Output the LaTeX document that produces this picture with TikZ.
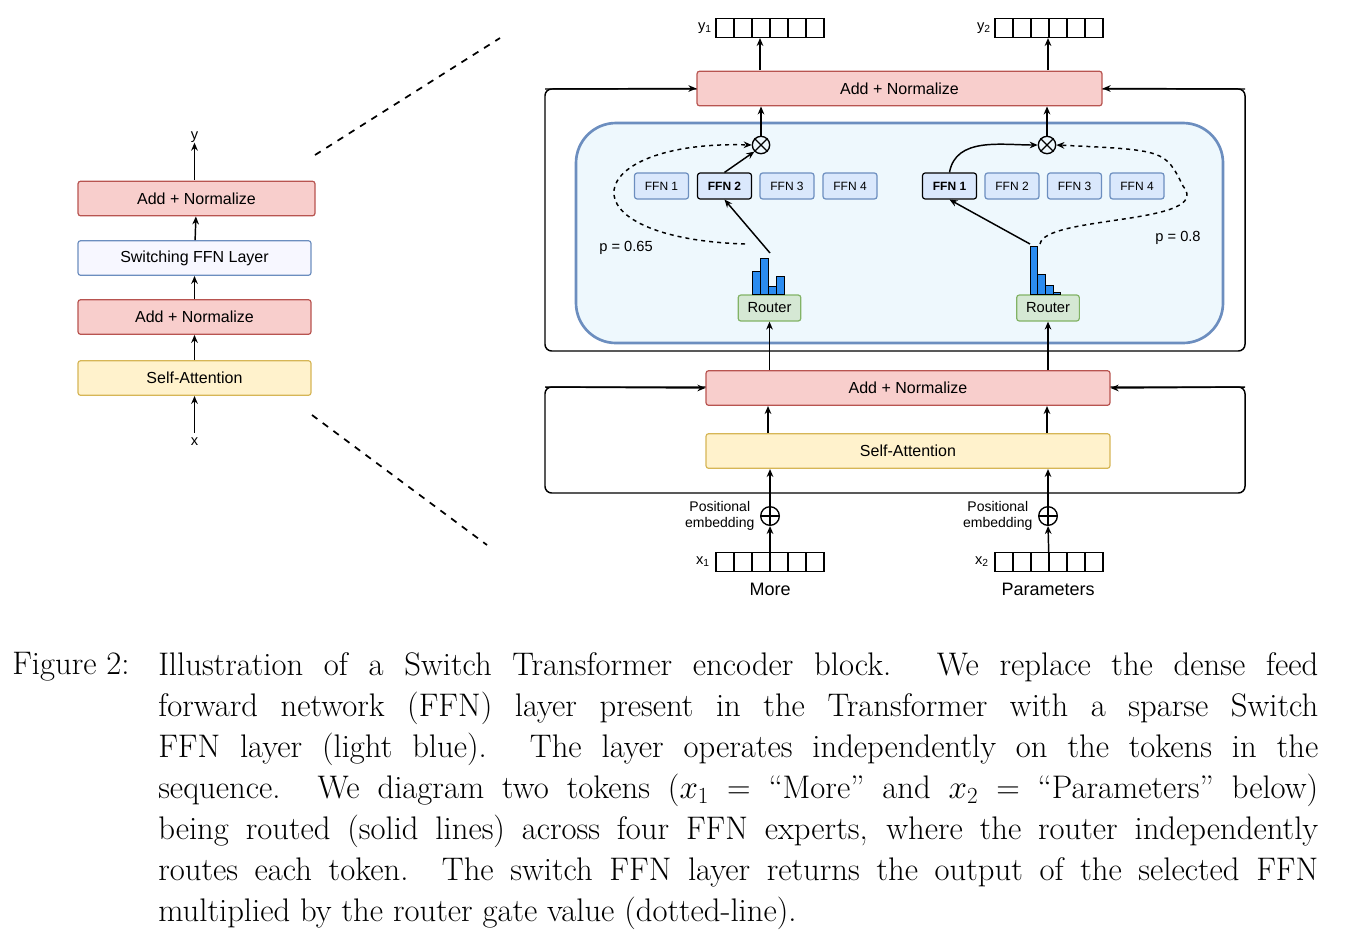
\documentclass[tikz,border=0pt]{standalone}
\usepackage{fontspec}
\newfontfamily\dfont{Liberation Sans}
\usetikzlibrary{positioning,arrows.meta}
\definecolor{rfill}{HTML}{F8CECC}\definecolor{rdraw}{HTML}{B85450}
\definecolor{yfill}{HTML}{FFF2CC}\definecolor{ydraw}{HTML}{D6B656}
\definecolor{bfill}{HTML}{DAE8FC}\definecolor{bdraw}{HTML}{6C8EBF}
\definecolor{gfill}{HTML}{D5E8D4}\definecolor{gdraw}{HTML}{82B366}
\definecolor{lfill}{HTML}{EEF8FD}\definecolor{hist}{HTML}{2B8CF0}
\tikzset{
  blk/.style={draw, rounded corners=2pt, line width=0.9pt, font=\dfont\fontsize{12}{14}\selectfont, inner sep=0pt},
  red/.style={blk, fill=rfill, draw=rdraw},
  yel/.style={blk, fill=yfill, draw=ydraw},
  ffn/.style={blk, fill=bfill, draw=bdraw, minimum width=40.5pt, minimum height=19.5pt, font=\dfont\fontsize{9}{10}\selectfont},
  sel/.style={ffn, draw=black, font=\dfont\bfseries\fontsize{9}{10}\selectfont},
  rtr/.style={blk, fill=gfill, draw=gdraw, minimum width=47pt, minimum height=19.5pt, font=\dfont\fontsize{11}{12}\selectfont},
  arr/.style={-{Stealth[length=6pt,width=5pt]}, line width=1.1pt},
  dsh/.style={arr, dashed},
  lbl/.style={font=\dfont\fontsize{11}{12}\selectfont, inner sep=0pt},
  captxt/.style={anchor=north west, inner sep=0pt, font=\fontsize{24.5}{30.75}\selectfont},
}
\newcommand\vect[3]{% name, x, y
  \foreach \i in {0,...,5}
    \draw[line width=1.3pt] (#2+\i*18-54,#3-9.5) rectangle ++(18,19);
  \coordinate (#1) at (#2,#3);}
\begin{document}
\begin{tikzpicture}[x=0.75pt,y=-0.75pt]
  \useasboundingbox (0,0) rectangle (1358,951);
  % left: overview
  \node[red, minimum width=177.75pt, minimum height=26pt] (lan2) at (196.5,198.5) {Add + Normalize};
  \node[blk, fill=blue!3, draw=bdraw, minimum width=174.75pt, minimum height=26pt] (lsw) at (194.5,258) {Switching FFN Layer};
  \node[red, minimum width=174.75pt, minimum height=26pt] (lan1) at (194.5,317) {Add + Normalize};
  \node[yel, minimum width=174.75pt, minimum height=26pt] (lsa) at (194.5,378) {Self-Attention};
  \node[lbl] (lx) at (194.5,442) {x};
  \node[lbl] (ly) at (194.5,137) {y};
  \draw[arr] (lx.north) ++(0,-5) -- (lsa);
  \draw[arr] (lsa) -- (lan1);
  \draw[arr] (lan1) -- (lsw);
  \draw[arr] (lsw) -- (lan2);
  \draw[arr] (194.5,180) -- (ly);
  \draw[dashed, line width=1.3pt, dash pattern=on 5pt off 5pt] (315,155) -- (500,38);
  \draw[dashed, line width=1.3pt, dash pattern=on 5pt off 5pt] (312,415) -- (487,545);
  % right: switch layer
  \draw[rounded corners=5pt, line width=1.1pt] (697,89) -- (545,89) -- (545,351) -- (1245,351) -- (1245,89) -- (1102,89);
  \draw[rounded corners=5pt, line width=1.1pt] (706,387) -- (545,387) -- (545,493) -- (1245,493) -- (1245,387) -- (1110,387);
  \draw[line width=2pt, draw=bdraw, fill=lfill, rounded corners=30pt] (576,123) rectangle (1223,343);
  \node[red, minimum width=303.75pt, minimum height=26pt] (an2) at (899.5,88.5) {Add + Normalize};
  \node[red, minimum width=303pt, minimum height=26pt] (an1) at (908,388) {Add + Normalize};
  \node[yel, minimum width=303pt, minimum height=26pt] (sa) at (908,451) {Self-Attention};
  \draw[arr] (545,89) -- (an2.west);
  \draw[arr] (1245,89) -- (an2.east);
  \draw[arr] (545,387) -- (an1.west);
  \draw[arr] (1245,387) -- (an1.east);
  % experts
  \foreach \n/\x in {1/661.5,3/787,4/850,6/1012,7/1074.5,8/1137}
    \node[ffn] (f\n) at (\x,186) {FFN \ifcase\n\or1\or\or3\or4\or\or2\or3\or4\fi};
  \node[sel] (f2) at (724.5,186) {FFN 2};
  \node[sel] (f5) at (949.5,186) {FFN 1};
  \node[rtr] (r1) at (769.5,308) {Router};
  \node[rtr] (r2) at (1048,308) {Router};
  \draw[line width=0.6pt, fill=hist] (752,271) rectangle (760,294) (760,258) rectangle (768,294)
    (768,286) rectangle (776,294) (776,276) rectangle (784,294);
  \draw[line width=0.6pt, fill=hist] (1030,246) rectangle (1037,294) (1037,274) rectangle (1045,294)
    (1045,285) rectangle (1053,294) (1053,292) rectangle (1060,294);
  \node[draw, circle, line width=1pt, minimum size=13pt, inner sep=0pt] (m1) at (761,145) {};
  \node[draw, circle, line width=1pt, minimum size=13pt, inner sep=0pt] (m2) at (1047,145) {};
  \foreach \m in {m1,m2}
    \draw[line width=1pt] (\m.north west) -- (\m.south east) (\m.north east) -- (\m.south west);
  \draw[arr] (770,253) -- (f2.south);
  \draw[arr] (f2.north) -- (m1.south west);
  \draw[arr] (1030,244) -- (f5.south);
  \draw[arr] (f5.north) to[out=80, in=180] (m2.west);
  \draw[dsh] (745,244) .. controls (560,238) and (580,140) .. (m1.west);
  \draw[dsh] (1040,244) .. controls (1045,215) and (1215,225) .. (1183,186) .. controls (1165,150) .. (m2.east);
  \node[lbl] (p1) at (626,248) {p = 0.65};
  \node[lbl] (p2) at (1178,238) {p = 0.8};
  \draw[arr] (r1.north |- an1.north) -- (r1.south);
  \draw[arr] (r2.north |- an1.north) -- (r2.south);
  \draw[arr] (m1.north) -- (m1.north |- an2.south);
  \draw[arr] (m2.north) -- (m2.north |- an2.south);
  \draw[arr] (768,433) -- (768,406);
  \draw[arr] (1047,433) -- (1047,406);
  % outputs
  \vect{y1}{770}{28}
  \vect{y2}{1049}{28}
  \node[lbl, left=3pt of y1, xshift=-40.5pt] (ly1) {y\textsubscript{1}};
  \node[lbl, left=3pt of y2, xshift=-40.5pt] (ly2) {y\textsubscript{2}};
  \draw[arr] (760,70) -- (760,38);
  \draw[arr] (1048,70) -- (1048,38);
  % inputs
  \foreach \k/\x in {1/770,2/1048}{
    \node[draw, circle, line width=1pt, minimum size=14pt, inner sep=0pt] (pe\k) at (\x,516) {};
    \draw[line width=1pt] (pe\k.north) -- (pe\k.south) (pe\k.west) -- (pe\k.east);
    \node[lbl, font=\dfont\fontsize{10.5}{12.5}\selectfont, align=center, left=4pt of pe\k] (pt\k) {Positional\\embedding};
    \draw[arr] (pe\k.north) -- (\x,469);
    \draw[line width=1.1pt] (\x,493) -- (\x,499);
  }
  \vect{x1}{770}{562}
  \vect{x2}{1049}{562}
  \draw[arr] (x1) -- (pe1.south);
  \draw[arr] (x2) -- (pe2.south);
  \node[lbl] (lx1) at (703,562) {x\textsubscript{1}};
  \node[lbl] (lx2) at (982,562) {x\textsubscript{2}};
  \node[lbl, font=\dfont\fontsize{13.5}{15}\selectfont] (w1) at (770,589) {More};
  \node[lbl, font=\dfont\fontsize{13.5}{15}\selectfont] (w2) at (1048,589) {Parameters};
  % caption
  \node[captxt] (capl) at (12,652) {Figure 2:};
  \node[captxt, text width=870pt, align=justify] (cap) at (158,652)
    {Illustration of a Switch Transformer encoder block. We replace the dense feed\linebreak
     forward network (FFN) layer present in the Transformer with a sparse Switch\linebreak
     FFN layer (light blue). The layer operates independently on the tokens in the\linebreak
     sequence. We diagram two tokens ($x_1$ = ``More'' and $x_2$ = ``Parameters'' below)\linebreak
     being routed (solid lines) across four FFN experts, where the router independently\linebreak
     routes each token. The switch FFN layer returns the output of the selected FFN\linebreak
     multiplied by the router gate value (dotted-line).};
\end{tikzpicture}
\end{document}
